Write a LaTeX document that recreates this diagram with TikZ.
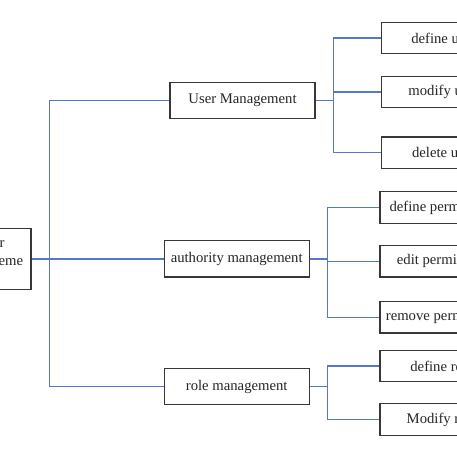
\documentclass[tikz,border=0pt]{standalone}
\usepackage{fontspec}
\setmainfont{Liberation Serif}
\definecolor{conncol}{RGB}{85,120,205}
\definecolor{boxcol}{RGB}{55,55,55}
\tikzset{
  box/.style={draw=boxcol, line width=1.2pt, inner sep=0pt, align=center,
    font=\fontsize{14.7}{18}\selectfont, text=black!85},
  midbox/.style={box, minimum width=145pt, minimum height=36.5pt},
  leafbox/.style={box, minimum width=124pt, minimum height=31.5pt},
  conn/.style={draw=conncol, line width=1.4pt}
}
\begin{document}
\begin{tikzpicture}[x=1pt,y=-1pt]
\useasboundingbox (0,0) rectangle (457,457);
\fill[white] (0,0) rectangle (457,457);
\begin{scope}
\clip (0,0) rectangle (457,457);
% root
\node[box, minimum width=105pt, minimum height=61pt] (root) at (-21.5,258.8) {};
\node[inner sep=0pt, align=center, font=\fontsize{14.7}{18}\selectfont, text=black!85]
  (roottext) at ([yshift=7pt]root.center) {Manager\\control scheme};
% middle level
\node[midbox] (um) at (242.5,100.5) {User Management};
\node[midbox] (am) at (236.7,258.8) {authority management};
\node[midbox] (rm) at (236.7,386.5) {role management};
% leaves
\node[leafbox] (du) at (443.7,37.9) {define user};
\node[leafbox] (mu) at (443.7,92.0) {modify user};
\node[leafbox] (deu) at (443.7,152.7) {delete user};
\node[leafbox] (dp) at (442,207.5) {define permission};
\node[leafbox] (ep) at (442,261.3) {edit permission};
\node[leafbox] (rp) at (442,317.2) {remove permission};
\node[leafbox] (dr) at (442,365.9) {define role};
\node[leafbox] (mr) at (442,419.5) {Modify role};
% bus coordinates
\coordinate (lt) at (49.3,100.5);
\coordinate (lb) at (49.3,386.5);
\coordinate (b1) at (333.3,100.5);
\coordinate (b2) at (327.7,258.8);
\coordinate (b3) at (327.7,386.5);
% connectors
\draw[conn] (root.east) -- (am.west);
\draw[conn] (um.west) -- (lt) -- (lb) -- (rm.west);
\draw[conn] (um.east) -- (b1);
\draw[conn] (b1) |- (du.west);
\draw[conn] (b1) |- (mu.west);
\draw[conn] (b1) |- (deu.west);
\draw[conn] (am.east) -- (b2);
\draw[conn] (b2) |- (dp.west);
\draw[conn] (b2) |- (ep.west);
\draw[conn] (b2) |- (rp.west);
\draw[conn] (rm.east) -- (b3);
\draw[conn] (b3) |- (dr.west);
\draw[conn] (b3) |- (mr.west);
\end{scope}
\end{tikzpicture}
\end{document}
